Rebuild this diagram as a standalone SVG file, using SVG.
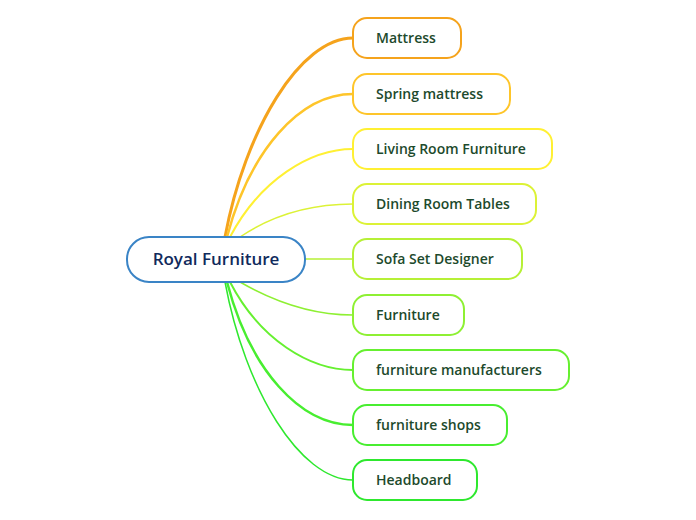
<svg xmlns="http://www.w3.org/2000/svg" width="696" height="520" viewBox="0 0 696 520">
<style>
.n rect{fill:#fff;stroke-width:2}
.n text{font-family:"Open Sans","Noto Sans",sans-serif;font-weight:600;font-size:14px;fill:#1d4a2c}
#connectors path{fill:none}
</style>
<rect width="696" height="520" fill="#fff"/>
<g id="connectors">
<path d="M225 237 C245 130 300 38 353 38" stroke="#f5a31c" stroke-width="3"/>
<path d="M227 237 C250 150 300 94 353 94" stroke="#fec52a" stroke-width="2.5"/>
<path d="M230 237 C260 180 310 149 353 149" stroke="#fff033" stroke-width="2"/>
<path d="M240 237 C280 210 320 204 353 204" stroke="#dcf236" stroke-width="1.5"/>
<path d="M305 259 L353 259" stroke="#b6f036" stroke-width="1.5"/>
<path d="M240 282 C280 305 320 315 353 315" stroke="#8ef033" stroke-width="1.5"/>
<path d="M230 282 C260 340 310 370 353 370" stroke="#66f030" stroke-width="2"/>
<path d="M227 282 C250 370 300 425 353 425" stroke="#48ee30" stroke-width="2.5"/>
<path d="M225 282 C245 390 300 480 353 480" stroke="#2ee82e" stroke-width="1.5"/>
</g>
<g id="root"><rect x="127" y="237" width="178" height="45" rx="22" fill="#fff" stroke="#3a84c6" stroke-width="2"/>
<text x="216" y="265" text-anchor="middle" font-family="'Open Sans','Noto Sans',sans-serif" font-weight="600" font-size="17" fill="#102a5c">Royal Furniture</text></g>
<g id="n1" class="n"><rect x="353" y="18" width="108" height="40" rx="14" stroke="#f5a31c"/><text x="376" y="43">Mattress</text></g>
<g id="n2" class="n"><rect x="353" y="74" width="157" height="40" rx="14" stroke="#fec52a"/><text x="376" y="99">Spring mattress</text></g>
<g id="n3" class="n"><rect x="353" y="129" width="199" height="40" rx="14" stroke="#fff033"/><text x="376" y="154">Living Room Furniture</text></g>
<g id="n4" class="n"><rect x="353" y="184" width="183" height="40" rx="14" stroke="#dcf236"/><text x="376" y="209">Dining Room Tables</text></g>
<g id="n5" class="n"><rect x="353" y="239" width="169" height="40" rx="14" stroke="#b6f036"/><text x="376" y="264">Sofa Set Designer</text></g>
<g id="n6" class="n"><rect x="353" y="295" width="111" height="40" rx="14" stroke="#8ef033"/><text x="376" y="320">Furniture</text></g>
<g id="n7" class="n"><rect x="353" y="350" width="216" height="40" rx="14" stroke="#66f030"/><text x="376" y="375">furniture manufacturers</text></g>
<g id="n8" class="n"><rect x="353" y="405" width="154" height="40" rx="14" stroke="#48ee30"/><text x="376" y="430">furniture shops</text></g>
<g id="n9" class="n"><rect x="353" y="460" width="124" height="40" rx="14" stroke="#2ee82e"/><text x="376" y="485">Headboard</text></g>
</svg>
